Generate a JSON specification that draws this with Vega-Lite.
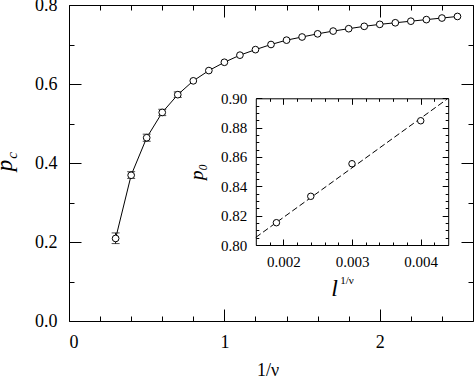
{
  "$schema": "https://vega.github.io/schema/vega-lite/v6.json",
  "width": 404,
  "height": 316,
  "autosize": {"type": "none"},
  "padding": {"left": 69, "top": 5, "right": 1, "bottom": 58},
  "background": "white",
  "config": {
    "view": {"stroke": null},
    "axis": {
      "grid": false,
      "domainColor": "black",
      "tickColor": "black",
      "labelColor": "black",
      "titleColor": "black",
      "labelFont": "Liberation Serif",
      "titleFont": "Liberation Serif",
      "titleFontWeight": "normal",
      "domainWidth": 1,
      "tickWidth": 1
    }
  },
  "datasets": {
    "main": [
      {"x": 0.3, "y": 0.209}, {"x": 0.4, "y": 0.369}, {"x": 0.5, "y": 0.464},
      {"x": 0.6, "y": 0.528}, {"x": 0.7, "y": 0.573}, {"x": 0.8, "y": 0.608},
      {"x": 0.9, "y": 0.634}, {"x": 1.0, "y": 0.655}, {"x": 1.1, "y": 0.673},
      {"x": 1.2, "y": 0.687}, {"x": 1.3, "y": 0.700}, {"x": 1.4, "y": 0.711},
      {"x": 1.5, "y": 0.719}, {"x": 1.6, "y": 0.727}, {"x": 1.7, "y": 0.734},
      {"x": 1.8, "y": 0.740}, {"x": 1.9, "y": 0.746}, {"x": 2.0, "y": 0.751},
      {"x": 2.1, "y": 0.755}, {"x": 2.2, "y": 0.759}, {"x": 2.3, "y": 0.763},
      {"x": 2.4, "y": 0.767}, {"x": 2.5, "y": 0.771}
    ],
    "err": [
      {"x": 0.3, "lo": 0.196, "hi": 0.223},
      {"x": 0.4, "lo": 0.361, "hi": 0.378},
      {"x": 0.5, "lo": 0.455, "hi": 0.473},
      {"x": 0.6, "lo": 0.520, "hi": 0.536},
      {"x": 0.7, "lo": 0.566, "hi": 0.580}
    ],
    "inset": [
      {"x": 0.0019, "y": 0.8152},
      {"x": 0.0024, "y": 0.8332},
      {"x": 0.003, "y": 0.8554},
      {"x": 0.004, "y": 0.8847}
    ],
    "fit": [
      {"x": 0.0016, "y": 0.8052},
      {"x": 0.00438, "y": 0.8993}
    ]
  },
  "resolve": {"scale": {"x": "independent", "y": "independent"}},
  "layer": [
    {
      "data": {"name": "err"},
      "encoding": {
        "x": {"field": "x", "type": "quantitative", "scale": {"domain": [0, 2.6], "nice": false, "zero": false}, "axis": null}
      },
      "layer": [
        {"mark": {"type": "rule", "color": "black", "strokeWidth": 1},
         "encoding": {"y": {"field": "lo", "type": "quantitative", "scale": {"domain": [0, 0.8], "nice": false, "zero": false}, "axis": null}, "y2": {"field": "hi"}}},
        {"mark": {"type": "tick", "orient": "horizontal", "size": 8, "thickness": 1, "color": "black"},
         "encoding": {"y": {"field": "lo", "type": "quantitative", "scale": {"domain": [0, 0.8], "nice": false, "zero": false}, "axis": null}}},
        {"mark": {"type": "tick", "orient": "horizontal", "size": 8, "thickness": 1, "color": "black"},
         "encoding": {"y": {"field": "hi", "type": "quantitative", "scale": {"domain": [0, 0.8], "nice": false, "zero": false}, "axis": null}}}
      ]
    },
    {
      "data": {"name": "main"},
      "encoding": {
        "x": {"field": "x", "type": "quantitative", "scale": {"domain": [0, 2.6], "nice": false, "zero": false},
              "axis": {"orient": "bottom", "values": [0, 1, 2], "format": "d", "tickSize": -12, "labelFontSize": 18, "labelPadding": 24,
                       "title": "1/ν", "titleFontSize": 18, "titleX": 198.5, "titleY": 54, "titleBaseline": "alphabetic", "titleAlign": "center"}},
        "y": {"field": "y", "type": "quantitative", "scale": {"domain": [0, 0.8], "nice": false, "zero": false},
              "axis": {"orient": "left", "values": [0, 0.2, 0.4, 0.6, 0.8], "format": ".1f", "tickSize": -12, "labelFontSize": 18, "labelPadding": 24,
                       "title": "p", "titleFontSize": 23, "titleFontStyle": "italic", "titleX": -58, "titleY": 160, "titleAngle": -90, "titleBaseline": "alphabetic", "titleAlign": "center"}}
      },
      "layer": [
        {"mark": {"type": "line", "color": "black", "strokeWidth": 1}},
        {"mark": {"type": "point", "shape": "circle", "filled": true, "fill": "white", "stroke": "black", "strokeWidth": 1, "size": 45, "opacity": 1}}
      ]
    },
    {
      "data": {"name": "main"},
      "mark": {"type": "point", "opacity": 0},
      "encoding": {
        "x": {"field": "x", "type": "quantitative", "scale": {"domain": [0, 2.6], "nice": false, "zero": false},
              "axis": {"orient": "bottom", "values": [0.2, 0.4, 0.6, 0.8, 1.2, 1.4, 1.6, 1.8, 2.2, 2.4], "tickSize": -5, "labels": false, "domain": false, "title": null}},
        "y": {"field": "y", "type": "quantitative", "scale": {"domain": [0, 0.8], "nice": false, "zero": false},
              "axis": {"orient": "left", "values": [0.1, 0.3, 0.5, 0.7], "tickSize": -5, "labels": false, "domain": false,
                       "title": "c", "titleFontSize": 15, "titleFontStyle": "italic", "titleX": -53, "titleY": 150, "titleAngle": -90, "titleBaseline": "alphabetic", "titleAlign": "center"}}
      }
    },
    {
      "data": {"name": "main"},
      "mark": {"type": "point", "opacity": 0},
      "encoding": {
        "x": {"field": "x", "type": "quantitative", "scale": {"domain": [0, 2.6], "nice": false, "zero": false},
              "axis": {"orient": "top", "values": [0, 1, 2], "tickSize": -12, "labels": false, "domain": true, "title": null}},
        "y": {"field": "y", "type": "quantitative", "scale": {"domain": [0, 0.8], "nice": false, "zero": false},
              "axis": {"orient": "right", "values": [0, 0.2, 0.4, 0.6, 0.8], "tickSize": -12, "labels": false, "domain": true, "title": null}}
      }
    },
    {
      "data": {"name": "main"},
      "mark": {"type": "point", "opacity": 0},
      "encoding": {
        "x": {"field": "x", "type": "quantitative", "scale": {"domain": [0, 2.6], "nice": false, "zero": false},
              "axis": {"orient": "top", "values": [0.2, 0.4, 0.6, 0.8, 1.2, 1.4, 1.6, 1.8, 2.2, 2.4], "tickSize": -5, "labels": false, "domain": false, "title": null}},
        "y": {"field": "y", "type": "quantitative", "scale": {"domain": [0, 0.8], "nice": false, "zero": false},
              "axis": {"orient": "right", "values": [0.1, 0.3, 0.5, 0.7], "tickSize": -5, "labels": false, "domain": false, "title": null}}
      }
    },
    {
      "data": {"name": "fit"},
      "mark": {"type": "line", "color": "black", "strokeWidth": 1, "strokeDash": [6, 3]},
      "encoding": {
        "x": {"field": "x", "type": "quantitative", "scale": {"domain": [0.0016, 0.0044], "range": [186.8, 379.2], "nice": false, "zero": false}, "axis": null},
        "y": {"field": "y", "type": "quantitative", "scale": {"domain": [0.8, 0.9], "range": [240, 93.3], "nice": false, "zero": false}, "axis": null}
      }
    },
    {
      "data": {"name": "inset"},
      "mark": {"type": "point", "shape": "circle", "filled": true, "fill": "white", "stroke": "black", "strokeWidth": 1, "size": 42, "opacity": 1},
      "encoding": {
        "x": {"field": "x", "type": "quantitative", "scale": {"domain": [0.0016, 0.0044], "range": [186.8, 379.2], "nice": false, "zero": false},
              "axis": {"orient": "bottom", "offset": -76, "values": [0.002, 0.003, 0.004], "format": ".3f", "tickSize": -6, "labelFontSize": 15, "labelPadding": 15,
                       "title": "l", "titleFontSize": 24, "titleFontStyle": "italic", "titleX": 265, "titleY": 50, "titleBaseline": "alphabetic", "titleAlign": "center"}},
        "y": {"field": "y", "type": "quantitative", "scale": {"domain": [0.8, 0.9], "range": [240, 93.3], "nice": false, "zero": false},
              "axis": {"orient": "left", "offset": -186.8, "values": [0.8, 0.82, 0.84, 0.86, 0.88, 0.9], "format": ".2f", "tickSize": -6, "labelFontSize": 15, "labelPadding": 15,
                       "title": "p₀", "titleFontSize": 19, "titleFontStyle": "italic", "titleX": -53, "titleY": 166.5, "titleAngle": -90, "titleBaseline": "alphabetic", "titleAlign": "center"}}
      }
    },
    {
      "data": {"name": "inset"},
      "mark": {"type": "point", "opacity": 0},
      "encoding": {
        "x": {"field": "x", "type": "quantitative", "scale": {"domain": [0.0016, 0.0044], "range": [186.8, 379.2], "nice": false, "zero": false},
              "axis": {"orient": "bottom", "offset": -76, "values": [0.0018, 0.0022, 0.0024, 0.0026, 0.0028, 0.0032, 0.0034, 0.0036, 0.0038, 0.0042], "tickSize": -3, "labels": false, "domain": false,
                       "title": "1/ν", "titleFontSize": 11, "titleX": 277.5, "titleY": 38, "titleBaseline": "alphabetic", "titleAlign": "center"}},
        "y": {"field": "y", "type": "quantitative", "scale": {"domain": [0.8, 0.9], "range": [240, 93.3], "nice": false, "zero": false},
              "axis": {"orient": "left", "offset": -186.8, "values": [0.805, 0.81, 0.815, 0.825, 0.83, 0.835, 0.845, 0.85, 0.855, 0.865, 0.87, 0.875, 0.885, 0.89, 0.895], "tickSize": -3, "labels": false, "domain": false, "title": null}}
      }
    },
    {
      "data": {"name": "inset"},
      "mark": {"type": "point", "opacity": 0},
      "encoding": {
        "x": {"field": "x", "type": "quantitative", "scale": {"domain": [0.0016, 0.0044], "range": [186.8, 379.2], "nice": false, "zero": false},
              "axis": {"orient": "top", "offset": -93.3, "values": [0.002, 0.003, 0.004], "tickSize": -6, "labels": false, "domain": true, "title": null}},
        "y": {"field": "y", "type": "quantitative", "scale": {"domain": [0.8, 0.9], "range": [240, 93.3], "nice": false, "zero": false},
              "axis": {"orient": "right", "offset": -24.8, "values": [0.8, 0.82, 0.84, 0.86, 0.88, 0.9], "tickSize": -6, "labels": false, "domain": true, "title": null}}
      }
    },
    {
      "data": {"name": "inset"},
      "mark": {"type": "point", "opacity": 0},
      "encoding": {
        "x": {"field": "x", "type": "quantitative", "scale": {"domain": [0.0016, 0.0044], "range": [186.8, 379.2], "nice": false, "zero": false},
              "axis": {"orient": "top", "offset": -93.3, "values": [0.0018, 0.0022, 0.0024, 0.0026, 0.0028, 0.0032, 0.0034, 0.0036, 0.0038, 0.0042], "tickSize": -3, "labels": false, "domain": false, "title": null}},
        "y": {"field": "y", "type": "quantitative", "scale": {"domain": [0.8, 0.9], "range": [240, 93.3], "nice": false, "zero": false},
              "axis": {"orient": "right", "offset": -24.8, "values": [0.805, 0.81, 0.815, 0.825, 0.83, 0.835, 0.845, 0.85, 0.855, 0.865, 0.87, 0.875, 0.885, 0.89, 0.895], "tickSize": -3, "labels": false, "domain": false, "title": null}}
      }
    }
  ]
}
